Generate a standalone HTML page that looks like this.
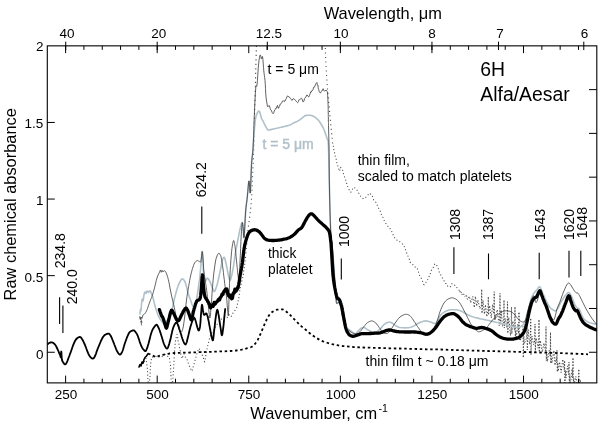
<!DOCTYPE html>
<html><head><meta charset="utf-8"><title>6H Alfa/Aesar absorbance</title>
<style>html,body{margin:0;padding:0;background:#fff}svg{display:block}text{font-family:"Liberation Sans",Arial,Helvetica,sans-serif;fill:#000}</style>
</head><body>
<svg width="600" height="424" viewBox="0 0 600 424">
<rect width="600" height="424" fill="#fff"/>
<clipPath id="c"><rect x="47.3" y="45.9" width="549.5" height="337.0"/></clipPath>
<g clip-path="url(#c)">
<polyline points="144.0,362.0 145.0,360.1 146.0,358.4 146.3,360.7 146.5,361.9 146.8,364.2 147.0,366.0 147.3,368.0 147.4,370.5 147.6,372.2 147.7,374.5 147.8,376.5 147.9,379.4 148.1,381.2 148.2,383.6 149.5,383.7 149.6,380.5 149.8,378.8 149.9,377.3 150.1,375.0 150.2,371.8 150.3,369.6 150.5,368.0 150.6,365.3 150.8,363.3 151.1,360.8 151.3,359.5 151.5,357.5 155.0,356.6 157.5,355.9 160.0,357.3 162.5,356.3 165.0,354.4 167.0,356.1 169.0,356.7 169.4,357.8 169.8,361.2 170.1,362.6 170.5,365.0 170.6,367.8 170.7,369.5 170.7,370.5 170.8,372.9 170.9,375.0 171.0,376.7 171.0,378.5 171.1,380.7 171.2,383.4 172.6,382.2 172.7,381.1 172.9,378.9 173.0,376.2 173.1,374.7 173.3,373.2 173.4,371.0 173.5,368.3 173.7,367.8 173.8,365.5 173.9,363.8 174.0,360.4 174.2,358.6 174.3,356.3 174.4,355.4 174.5,352.6 174.6,350.4 174.8,348.9 174.9,347.7 175.0,345.5 175.3,342.3 175.7,339.8 176.0,338.7 176.5,336.1 177.0,334.3 177.3,335.3 177.7,337.3 178.0,340.3 178.4,341.9 178.8,343.3 179.2,346.7 179.6,348.2 180.0,350.5 180.5,351.3 181.0,354.6 181.5,355.3 182.0,358.6 183.0,355.9 184.0,353.7 185.0,356.1 186.0,358.7 187.0,359.6 187.8,361.4 188.5,364.0 189.2,365.6 190.0,367.4 191.0,369.5 192.0,371.3 192.5,369.5 193.0,367.7 193.5,365.7 194.0,364.4 194.6,361.7 195.2,360.0 195.8,357.5 196.4,355.8 197.0,353.2 197.7,351.6 198.3,349.2 199.0,348.4 200.0,350.1 201.0,351.5 202.0,354.0 202.7,356.7 203.3,357.4 203.9,360.5 204.6,361.9 204.9,360.0 205.3,358.5 205.7,355.8 206.0,354.0 206.4,352.3 206.8,350.8 207.2,347.7 207.6,346.5 208.0,344.3 208.7,341.9 209.3,339.2 210.0,336.8 211.0,334.3 212.0,332.4 213.2,330.3 214.5,329.4 215.8,326.6 217.0,324.5 218.2,322.3 219.5,321.5 222.0,318.6 225.0,316.8 227.0,317.7 229.0,314.6 231.0,316.7 232.0,315.2 233.0,313.0 234.5,311.2 236.0,308.6 236.6,307.7 237.1,305.8 237.7,303.1 238.2,300.6 238.8,299.7 239.0,296.7 239.3,294.8 239.5,292.2 239.8,290.8 240.0,289.0 240.5,287.0 241.0,284.5 241.5,283.0 242.0,280.2 242.5,278.6 243.0,276.3 243.3,274.7 243.6,272.0 243.8,269.9 244.1,268.2 244.4,266.0 244.7,264.5 244.9,262.3 245.2,260.5 245.5,258.3" fill="none" stroke="#4a4a4a" stroke-width="1.05" stroke-linejoin="round" stroke-linecap="butt" stroke-dasharray="1.1 2.3"/>
<polyline points="245.5,258.0 248.3,226.8 249.5,218.6 250.9,206.8 251.8,195.0 252.6,175.4 253.6,151.8 254.5,115.0 255.5,80.0 256.3,50.0 256.8,30.0" fill="none" stroke="#4a4a4a" stroke-width="1.1" stroke-linejoin="round" stroke-linecap="butt" stroke-dasharray="1.1 3.4"/>
<polyline points="325.0,30.0 325.4,52.0 326.5,75.0 327.7,92.0 330.0,115.8 332.5,142.0" fill="none" stroke="#4a4a4a" stroke-width="1.1" stroke-linejoin="round" stroke-linecap="butt" stroke-dasharray="1.1 3.4"/>
<polyline points="332.5,142.4 332.9,144.8 333.3,145.8 333.6,147.7 334.0,151.0 334.4,151.3 334.8,154.4 335.4,156.7 336.0,157.9 336.6,161.9 337.2,164.4 338.0,166.2 338.7,168.8 339.5,171.3 340.5,167.3 342.4,169.5 343.0,171.5 343.6,174.1 344.2,176.0 345.0,178.4 345.8,180.3 346.6,183.3 347.2,184.9 347.8,187.0 348.4,188.1 349.0,189.8 350.8,192.3 352.0,190.4 353.2,187.5 354.9,187.9 357.0,190.1 358.2,192.3 359.5,194.3 360.7,196.2 361.8,197.7 363.0,198.6 364.8,198.4 366.6,196.5 368.3,194.5 370.0,193.1 371.2,195.5 372.5,196.5 373.7,200.1 374.8,200.9 375.9,202.3 377.0,204.5 378.2,207.8 379.5,209.1 380.7,212.5 381.6,215.2 382.5,216.4 383.4,218.4 384.3,220.8 385.5,222.9 386.6,224.8 387.8,226.2 389.0,228.1 390.2,228.8 391.4,230.8 392.6,233.4 393.8,236.7 395.0,238.2 396.7,240.1 398.3,240.4 400.0,241.9 401.9,243.4 403.8,245.3 404.5,247.3 405.2,249.2 405.9,250.3 406.6,252.6 407.3,254.4 408.2,256.7 409.1,258.2 409.9,262.0 410.8,262.8 414.4,266.0 415.6,267.7 416.8,267.6 418.0,270.3 418.9,273.3 419.8,275.8 420.6,277.0 421.5,278.8 422.4,280.7 423.4,284.2 424.3,284.7 425.5,283.5 426.7,280.6 427.9,279.3 428.8,278.0 429.6,274.1 430.5,273.3 431.4,270.4 432.4,269.3 433.5,267.1 434.6,264.3 435.6,263.8 436.5,265.2 437.4,266.5 438.3,268.8 439.2,272.0 440.1,273.7 440.9,275.3 441.8,276.8 442.7,279.0 444.0,280.7 445.4,283.5 446.7,283.6 448.0,286.9 450.5,286.7 451.9,283.7 453.4,283.9 454.6,285.1 455.7,287.1 456.9,287.6 459.5,290.7" fill="none" stroke="#4a4a4a" stroke-width="1.05" stroke-linejoin="round" stroke-linecap="butt" stroke-dasharray="1.1 2.3"/>
<polyline points="459.5,292.1 460.7,290.7 461.8,294.9 463.2,293.2 464.8,296.5 466.3,294.8 467.4,299.5 469.4,296.3 470.7,302.9 472.8,296.5 474.3,307.5 475.4,296.4 476.7,306.2 477.9,300.0 479.8,308.7 481.4,306.2 481.7,289.2 482.0,313.3 482.5,306.2 483.0,300.3 484.4,314.2 485.5,304.7 486.8,316.7 488.0,310.0 488.3,296.7 488.6,315.0 489.1,310.0 489.6,305.5 491.3,317.9 492.7,304.4 493.9,313.9 494.2,291.7 494.5,320.0 495.0,313.9 495.5,319.7 497.2,309.7 499.2,325.7 499.7,318.5 500.0,293.3 500.3,325.0 500.8,318.5 501.3,310.2 502.4,326.4 503.7,321.7 504.0,300.0 504.3,328.0 504.8,321.7 505.3,318.5 506.9,327.6 507.2,324.5 507.5,301.7 507.8,333.3 508.3,324.5 508.8,317.5 510.5,335.6 511.2,327.7 511.5,307.0 511.8,334.0 512.3,327.7 512.8,321.1 514.7,330.4 515.0,306.7 515.3,336.7 515.8,330.4 516.3,338.4 517.8,324.2 518.7,333.6 519.0,312.0 519.3,340.0 519.8,333.6 520.3,340.9 522.1,331.8 522.7,335.9 523.0,326.6 523.3,357.7 523.8,335.9 524.3,343.8 526.7,337.5 527.0,322.0 527.3,350.0 527.8,337.5 528.3,329.7 529.6,344.3 530.4,339.0 530.7,318.1 531.0,354.9 531.5,339.0 532.0,336.1 533.6,344.6 534.7,340.8 535.0,324.0 535.3,352.0 535.8,340.8 536.3,338.4 538.2,348.2 538.7,344.9 539.0,319.5 539.3,352.1 539.8,344.9 540.3,340.5 542.3,352.1 543.9,343.1 545.7,352.0 546.0,326.6 546.3,360.6 546.8,352.0 547.3,361.7 549.3,350.2 550.2,356.4 550.5,332.3 550.8,363.4 551.3,356.4 551.8,363.2 553.9,350.5 555.0,365.3 556.3,357.4 556.7,362.8 557.0,350.0 557.3,372.0 557.8,362.8 558.3,371.1 559.6,362.0 561.1,372.5 562.8,359.3 564.3,370.3 564.6,360.6 564.9,383.2 565.4,370.3 565.9,378.1 567.6,365.9 568.7,374.7 569.0,362.0 569.3,383.0 569.8,374.7 570.3,384.7 572.2,368.7 572.7,378.1 573.0,357.7 573.3,383.2 573.8,378.1 574.3,384.9 575.8,376.5 577.5,385.6 578.5,382.9 578.8,369.1 579.1,381.8 579.6,382.9 580.1,379.4 581.3,390.4 582.4,382.5 583.5,390.8 585.0,384.5" fill="none" stroke="#3c3c3c" stroke-width="0.95" stroke-linejoin="round" stroke-linecap="butt" stroke-dasharray="1.3 1.7"/>
<polyline points="140.0,314.0 140.1,312.9 140.2,311.4 140.4,309.9 140.5,309.0 140.6,309.2 140.7,310.2 140.9,311.0 141.0,311.0 141.1,309.6 141.3,307.4 141.4,305.0 141.6,303.0 141.8,301.6 141.9,300.4 142.1,299.5 142.3,299.0 142.5,299.3 142.6,300.1 142.8,300.9 143.0,301.0 143.2,300.0 143.5,298.3 143.8,296.5 144.0,295.0 144.2,293.9 144.4,293.0 144.7,292.4 144.9,292.0 145.2,292.2 145.4,292.7 145.7,293.3 146.0,293.5 146.2,293.1 146.5,292.2 146.7,291.4 147.0,291.0 147.4,291.2 147.8,291.7 148.1,292.2 148.5,292.5 148.8,292.3 149.0,291.8 149.3,291.3 149.5,291.0 149.7,290.8 150.0,290.8 150.2,290.9 150.6,291.5 151.1,292.6 151.7,294.2 152.4,296.0 153.0,298.0 153.6,300.3 154.2,302.8 154.9,305.5 155.6,308.0 156.4,310.4 157.2,312.8 158.0,315.0 158.9,317.0 159.9,318.8 161.1,320.4 162.1,321.8 163.0,322.8 163.5,323.5 163.8,324.0 164.2,324.1 164.7,323.7 165.6,322.8 166.7,321.4 167.8,319.7 168.8,317.9 169.7,316.1 170.5,314.1 171.3,312.0 172.0,309.6 172.7,306.9 173.3,304.0 173.9,301.0 174.6,298.0 175.4,295.0 176.2,291.9 177.1,289.0 177.9,286.5 178.7,284.4 179.5,282.6 180.3,281.1 181.0,280.0 181.5,279.3 182.0,279.0 182.4,278.9 182.8,279.0 183.2,279.2 183.7,279.7 184.1,280.3 184.5,281.0 184.9,281.7 185.2,282.5 185.6,283.5 186.0,285.0 186.6,287.1 187.3,289.8 188.0,292.5 188.6,294.8 189.2,296.6 189.8,298.1 190.3,299.5 190.8,300.8 191.3,302.1 191.7,303.4 192.1,304.6 192.5,305.5 192.9,306.2 193.2,306.7 193.5,307.0 193.9,307.0 194.3,306.7 194.7,306.1 195.1,305.2 195.5,304.0 195.9,302.5 196.3,300.8 196.7,298.5 197.2,295.6 197.8,291.7 198.5,286.9 199.2,282.0 199.8,277.4 200.2,273.2 200.6,269.2 200.9,265.4 201.2,262.0 201.5,258.5 201.7,255.1 202.0,252.5 202.2,251.5 202.4,252.6 202.6,255.3 202.8,258.7 203.0,262.0 203.2,265.1 203.3,268.6 203.5,271.8 203.8,274.6 204.2,276.9 204.6,278.8 205.1,280.2 205.6,281.0 206.0,280.8 206.4,279.7 206.9,278.5 207.4,278.0 208.0,278.4 208.6,279.2 209.3,280.3 210.0,281.6 210.7,283.2 211.4,285.2 212.1,287.2 212.7,288.7 213.2,289.9 213.6,290.9 214.0,291.5 214.5,291.4 215.1,290.6 215.7,289.1 216.3,287.2 217.0,285.0 217.7,282.4 218.4,279.3 219.1,276.0 219.8,272.8 220.5,269.5 221.2,266.0 221.8,262.8 222.4,260.4 222.9,258.7 223.4,257.7 223.9,257.2 224.4,257.5 224.9,258.7 225.4,260.8 226.0,263.2 226.5,265.7 227.0,268.3 227.6,271.3 228.1,274.1 228.6,276.3 229.1,278.0 229.5,279.4 229.9,280.2 230.4,279.9 231.0,278.3 231.6,275.8 232.3,272.5 233.0,269.0 233.7,265.0 234.3,260.4 235.0,255.8 235.7,251.5 236.4,247.6 237.1,243.9 237.8,240.5 238.4,237.4 238.9,234.6 239.4,232.2 239.8,230.0 240.3,228.0 240.8,226.1 241.3,224.3 241.8,222.9 242.2,222.5 242.5,223.2 242.8,224.9 243.0,227.0 243.2,229.0 243.4,231.8 243.6,235.2 243.8,237.7 244.1,237.5 244.4,233.3 244.8,226.3 245.2,218.5 245.6,212.0 246.0,207.3 246.5,203.3 247.0,199.7 247.4,196.0 247.8,191.5 248.2,186.8 248.6,182.8 249.0,181.0 249.3,183.0 249.7,187.8 250.0,192.2 250.3,193.0 250.6,188.4 250.9,180.3 251.2,171.5 251.5,164.6 251.8,160.5 252.1,157.6 252.4,155.3 252.7,152.8 252.9,150.2 253.0,147.9 253.2,145.3 253.4,142.0 253.7,137.5 254.2,132.2 254.6,126.9 255.0,122.8 255.3,120.1 255.6,118.4 255.8,117.1 256.2,115.8 256.7,114.3 257.4,112.8 258.0,111.7 258.6,111.0 259.0,111.0 259.4,111.4 259.7,112.1 260.0,113.0 260.3,114.1 260.7,115.4 261.0,116.8 261.4,118.0 261.8,119.0 262.3,119.9 262.8,120.7 263.3,121.7 263.9,122.8 264.5,124.1 265.1,125.3 265.7,126.4 266.3,127.5 266.8,128.5 267.3,129.3 268.0,129.9 268.7,130.1 269.4,130.0 270.3,129.7 271.6,129.4 273.4,129.0 275.6,128.5 277.9,128.0 279.8,127.5 281.2,127.2 282.4,126.9 283.4,126.7 284.5,126.4 285.7,126.1 286.8,125.9 288.0,125.6 289.2,125.2 290.4,124.7 291.6,124.1 292.8,123.4 294.0,122.8 295.2,122.2 296.4,121.7 297.6,121.1 298.7,120.5 299.7,119.9 300.6,119.2 301.4,118.6 302.2,118.0 302.9,117.4 303.6,116.8 304.2,116.2 305.0,115.8 305.9,115.5 306.9,115.4 307.9,115.3 308.9,115.3 309.8,115.3 310.7,115.4 311.5,115.5 312.4,115.8 313.3,116.2 314.2,116.7 315.1,117.3 316.0,118.0 316.9,118.8 317.8,119.6 318.6,120.6 319.5,121.7 320.4,123.0 321.3,124.5 322.2,126.0 323.0,127.5 323.7,129.0 324.3,130.4 324.9,131.9 325.4,133.4 325.9,134.9 326.4,136.4 326.9,137.8 327.3,139.3 327.6,139.8 327.9,139.7 328.1,140.8 328.4,145.0 328.7,153.6 328.9,165.4 329.2,178.2 329.5,190.0 329.8,200.8 330.0,211.5 330.3,221.4 330.6,229.6 331.0,235.3 331.4,239.2 331.8,242.6 332.3,247.0 332.8,252.9 333.3,259.5 333.8,266.1 334.2,272.0 334.6,277.2 334.9,281.9 335.2,286.2 335.5,290.0 335.7,293.2 335.9,295.9 336.0,298.2 336.2,300.0 336.3,301.4 336.4,302.4 336.6,303.0 336.8,303.4 337.1,303.4 337.6,302.9 338.0,302.5 338.5,302.5 339.0,302.9 339.5,303.6 340.0,304.6 340.5,306.0 341.0,308.1 341.5,310.7 342.0,313.4 342.5,316.0 343.0,318.4 343.5,320.8 344.0,323.1 344.5,325.0 345.1,326.7 345.8,328.1 346.5,329.3 347.0,330.0 347.2,330.0 347.1,329.5 347.2,328.9 347.5,328.7 348.3,329.2 349.4,330.0 350.6,330.9 351.7,331.7 352.8,332.4 353.9,333.1 354.9,333.6 355.8,333.7 356.5,333.3 357.1,332.6 357.6,331.6 358.3,330.8 359.1,330.0 360.0,329.2 360.9,328.5 361.7,328.0 362.4,327.7 363.0,327.5 363.6,327.4 364.2,327.5 364.8,327.8 365.4,328.2 366.0,328.7 366.7,329.2 367.6,329.7 368.6,330.3 369.7,330.9 370.8,331.3 372.0,331.7 373.3,332.0 374.6,332.1 375.8,332.0 376.9,331.6 378.0,330.9 379.0,330.1 380.0,329.2 380.9,328.3 381.7,327.2 382.5,326.2 383.3,325.3 384.1,324.5 385.0,323.8 385.9,323.3 386.7,322.8 387.5,322.5 388.4,322.2 389.2,322.2 390.0,322.2 390.8,322.4 391.6,322.8 392.5,323.3 393.3,323.8 394.1,324.4 394.9,325.1 395.7,325.7 396.7,326.3 397.8,326.8 399.0,327.2 400.3,327.5 401.7,327.7 403.3,327.8 405.0,327.9 406.7,327.8 408.3,327.7 409.7,327.5 410.9,327.2 412.1,326.8 413.3,326.3 414.6,325.6 415.8,324.8 417.1,324.0 418.3,323.3 419.6,322.7 420.9,322.1 422.2,321.7 423.3,321.3 424.2,321.1 425.1,321.0 425.8,320.9 426.7,321.0 427.7,321.1 428.7,321.4 429.8,321.7 430.8,322.0 431.9,322.4 433.0,323.0 434.1,323.4 435.0,323.5 435.7,323.2 436.3,322.6 436.9,321.8 437.5,320.8 438.2,319.5 439.0,317.9 439.9,316.3 440.8,315.0 441.8,314.0 442.8,313.1 443.9,312.4 445.0,311.7 446.1,311.1 447.1,310.7 448.2,310.3 449.2,310.0 450.2,309.8 451.2,309.7 452.3,309.7 453.3,309.7 454.3,309.7 455.4,309.7 456.4,309.8 457.5,310.0 458.6,310.2 459.6,310.5 460.7,310.9 461.7,311.3 462.7,311.8 463.7,312.5 464.8,313.1 465.8,313.7 466.8,314.3 467.8,314.8 468.9,315.3 470.0,315.8 471.2,316.3 472.4,316.7 473.7,317.1 475.0,317.5 476.2,317.8 477.5,318.1 478.8,318.4 480.0,318.7 481.2,319.0 482.5,319.2 483.8,319.4 485.0,319.7 486.2,320.0 487.5,320.2 488.8,320.5 490.0,320.8 491.2,321.1 492.5,321.4 493.8,321.7 495.0,322.0 496.2,322.3 497.5,322.5 498.8,322.7 500.0,323.0 501.2,323.3 502.5,323.6 503.8,323.9 505.0,324.2 506.2,324.6 507.4,325.0 508.6,325.4 510.0,325.8 511.6,326.3 513.4,326.8 515.2,327.3 516.7,327.5 518.0,327.5 519.0,327.4 520.0,327.1 521.0,326.5 522.0,325.7 523.1,324.8 524.1,323.5 525.0,321.7 525.9,319.2 526.7,316.2 527.5,313.0 528.3,310.0 529.0,307.3 529.6,304.6 530.2,302.2 530.8,300.0 531.4,298.2 532.0,296.7 532.6,295.4 533.3,294.2 534.1,293.0 535.0,291.9 535.9,290.9 536.7,290.0 537.5,288.9 538.2,287.7 539.0,286.9 539.7,286.7 540.4,287.5 541.1,289.0 541.8,290.8 542.5,292.5 543.1,294.0 543.8,295.4 544.4,296.9 545.0,298.3 545.6,299.6 546.2,300.9 546.9,302.1 547.5,303.3 548.1,304.4 548.7,305.6 549.3,306.6 550.0,307.5 550.8,308.3 551.6,309.0 552.5,309.5 553.3,310.0 554.0,310.4 554.6,310.8 555.2,310.9 555.8,310.8 556.4,310.3 557.0,309.5 557.7,308.5 558.3,307.5 558.9,306.4 559.5,305.1 560.2,303.7 560.8,302.5 561.4,301.4 562.0,300.3 562.7,299.3 563.3,298.3 563.9,297.4 564.5,296.5 565.1,295.7 565.8,295.0 566.5,294.2 567.2,293.3 568.0,292.6 568.7,292.5 569.5,293.0 570.2,294.0 571.0,295.3 571.7,296.7 572.4,298.2 573.0,300.0 573.6,301.8 574.2,303.3 574.8,304.6 575.5,305.7 576.1,306.7 576.7,307.5 577.3,308.0 578.0,308.3 578.6,308.5 579.2,309.2 579.8,310.4 580.5,311.9 581.1,313.6 581.7,315.0 582.3,316.2 582.9,317.3 583.5,318.3 584.2,319.2 584.9,320.0 585.7,320.6 586.6,321.2 587.5,321.7 588.5,322.2 589.6,322.6 590.6,323.0 591.7,323.3 592.8,323.6 593.9,323.8 594.9,324.0 595.8,324.2 596.4,324.3 596.9,324.4 597.3,324.5 597.5,324.5" fill="none" stroke="#b0c1ca" stroke-width="1.6" stroke-linejoin="round" stroke-linecap="round" />
<polyline points="141.6,325.0 141.4,324.2 141.2,322.9 141.0,321.7 140.9,321.0 141.1,321.1 141.4,321.8 141.8,322.4 141.9,322.5 141.7,321.8 141.4,320.7 141.0,319.5 140.7,318.5 140.4,317.7 140.1,317.1 139.9,316.6 139.8,316.5 139.8,317.0 139.9,318.0 140.1,319.0 140.3,319.5 140.5,319.2 140.7,318.3 141.0,317.5 141.2,317.0 141.4,317.2 141.6,317.8 141.8,318.4 142.0,318.5 142.2,317.9 142.5,316.9 142.7,315.8 143.0,315.0 143.3,314.6 143.7,314.5 144.1,314.3 144.5,314.0 145.0,313.4 145.5,312.7 146.0,311.9 146.5,311.0 146.9,310.1 147.2,309.3 147.6,308.3 148.0,307.0 148.6,305.3 149.3,303.3 150.0,301.3 150.6,299.7 151.0,298.7 151.3,298.1 151.6,297.4 152.0,296.5 152.4,295.2 152.9,293.7 153.4,291.9 154.0,289.8 154.7,287.1 155.5,283.9 156.2,280.7 157.0,278.0 157.7,275.9 158.5,274.2 159.2,272.8 159.7,271.7 160.0,270.9 160.2,270.3 160.4,270.0 160.5,270.0 160.7,270.4 160.8,271.2 161.0,271.9 161.2,272.3 161.4,272.0 161.6,271.3 161.8,270.6 162.0,270.3 162.2,270.5 162.5,271.1 162.7,271.7 163.0,272.0 163.2,271.8 163.5,271.3 163.7,270.9 164.0,270.6 164.3,270.6 164.7,270.8 165.1,271.1 165.5,271.6 165.9,272.2 166.2,273.0 166.6,273.9 167.0,275.0 167.4,276.3 167.9,277.8 168.3,279.5 168.8,281.6 169.3,284.1 169.8,287.0 170.4,290.0 171.0,293.0 171.6,295.9 172.3,298.9 173.0,301.8 173.7,304.7 174.3,307.6 174.9,310.5 175.5,313.3 176.0,316.0 176.5,318.7 177.0,321.4 177.5,323.8 178.0,326.0 178.5,327.8 179.0,329.3 179.5,330.6 180.0,331.5 180.4,332.1 180.8,332.3 181.1,332.3 181.5,332.0 181.9,331.5 182.2,330.7 182.6,329.5 183.0,328.0 183.4,326.1 183.7,323.9 184.1,321.2 184.5,318.0 185.0,314.0 185.5,309.2 186.0,304.4 186.5,300.0 187.0,296.3 187.5,292.8 188.1,289.6 188.6,286.5 189.2,283.3 189.7,280.3 190.3,277.4 190.8,274.9 191.3,272.9 191.7,271.3 192.1,269.9 192.5,268.5 193.0,267.0 193.5,265.5 194.0,264.1 194.6,263.0 195.2,262.1 195.9,261.4 196.6,260.9 197.2,260.6 197.7,260.6 198.2,260.8 198.6,261.1 199.0,261.3 199.4,261.6 199.9,261.9 200.3,262.2 200.6,262.0 200.9,261.4 201.0,260.4 201.2,259.3 201.4,258.0 201.6,256.2 201.8,254.1 202.0,252.3 202.2,251.5 202.4,252.1 202.6,253.6 202.8,255.7 203.0,258.0 203.2,260.6 203.3,263.7 203.5,266.8 203.7,269.7 204.0,272.2 204.3,274.5 204.7,276.8 205.0,279.0 205.3,281.2 205.6,283.2 206.0,285.4 206.3,287.8 206.7,290.6 207.1,293.7 207.4,296.9 207.8,300.0 208.1,303.2 208.4,306.4 208.7,309.4 209.0,312.0 209.3,314.4 209.5,316.6 209.7,318.0 210.0,318.0 210.3,316.1 210.6,312.8 210.9,308.8 211.2,305.0 211.5,301.3 211.8,297.5 212.0,293.7 212.3,290.0 212.6,286.7 212.8,283.5 213.1,280.3 213.4,277.0 213.8,273.2 214.4,269.1 214.9,265.2 215.4,262.0 215.8,259.8 216.2,258.2 216.6,257.1 217.0,256.0 217.4,255.0 217.9,254.2 218.3,253.6 218.7,253.3 219.1,253.3 219.4,253.5 219.7,254.0 220.0,254.5 220.3,254.9 220.6,255.4 220.9,256.1 221.2,257.5 221.6,259.7 222.1,262.5 222.5,265.7 223.0,269.0 223.4,272.4 223.8,276.1 224.3,279.8 224.7,283.4 225.2,286.8 225.6,290.2 226.1,293.5 226.5,297.0 226.9,300.9 227.2,305.1 227.5,309.0 227.8,311.9 228.0,313.9 228.1,315.3 228.3,315.8 228.4,315.0 228.5,312.7 228.7,309.1 228.8,304.7 229.0,300.0 229.2,295.0 229.3,289.5 229.5,283.7 229.8,278.0 230.1,272.0 230.5,265.8 230.9,259.9 231.3,255.0 231.6,251.5 231.9,248.8 232.2,246.8 232.5,245.0 232.8,243.3 233.1,241.9 233.3,241.0 233.6,240.5 233.8,240.7 234.1,241.3 234.3,242.4 234.5,243.5 234.7,244.6 234.9,245.8 235.1,247.3 235.4,249.5 235.7,252.7 236.1,256.7 236.5,260.9 236.9,264.5 237.2,267.6 237.5,270.4 237.7,272.9 238.0,275.0 238.2,277.1 238.5,279.2 238.7,280.3 238.9,279.8 239.2,277.1 239.4,272.8 239.7,267.6 240.0,262.0 240.3,255.8 240.6,248.7 240.9,241.8 241.2,236.0 241.5,231.3 241.7,227.2 242.0,224.2 242.2,222.5 242.5,222.7 242.7,224.4 243.0,226.8 243.2,229.0 243.4,231.8 243.6,235.2 243.8,237.7 244.1,237.5 244.4,233.3 244.8,226.3 245.2,218.5 245.6,212.0 246.0,207.3 246.5,203.3 247.0,199.7 247.4,196.0 247.8,191.5 248.2,186.8 248.6,182.8 249.0,181.0 249.3,183.0 249.7,187.8 250.0,192.2 250.3,193.0 250.6,188.4 250.9,180.3 251.2,171.5 251.5,164.6 251.8,160.5 252.1,157.6 252.4,155.3 252.7,152.8 252.9,150.4 253.1,148.3 253.2,145.8 253.4,142.0 253.6,136.6 253.8,130.0 254.0,122.9 254.3,115.8 254.6,108.3 255.0,100.2 255.4,92.8 255.8,87.5 256.1,85.5 256.4,85.8 256.7,86.3 257.0,85.0 257.4,80.7 257.8,74.9 258.2,68.8 258.6,63.9 259.0,60.5 259.4,57.8 259.8,55.9 260.2,54.9 260.5,55.2 260.8,56.5 261.1,58.1 261.4,59.0 261.7,58.5 262.0,57.3 262.3,56.4 262.6,56.8 262.9,59.3 263.2,63.1 263.5,67.3 263.8,70.9 264.1,73.4 264.4,75.5 264.7,77.6 265.0,80.4 265.3,84.2 265.5,88.7 265.7,93.1 266.0,96.9 266.4,100.0 266.8,102.6 267.2,104.8 267.5,106.3 267.5,106.5 269.4,105.7 269.8,107.1 270.2,108.5 270.6,109.8 271.3,110.2 272.1,112.4 272.8,113.5 273.5,113.4 273.9,112.5 274.3,110.9 274.8,110.0 275.2,109.5 275.6,108.4 276.2,108.6 276.9,106.5 277.5,105.4 278.1,108.0 278.8,108.2 279.2,106.4 279.7,106.0 280.2,104.0 280.6,103.9 281.2,103.6 281.9,102.3 282.5,101.0 283.4,100.8 284.4,101.7 284.9,100.4 285.4,100.5 285.8,99.1 286.3,98.6 286.9,97.0 287.5,95.9 288.1,96.2 289.1,97.1 290.0,97.5 290.6,98.5 291.3,99.5 291.9,100.4 292.9,98.9 293.8,98.8 294.4,99.4 295.0,99.6 295.6,100.5 296.6,101.8 297.5,102.7 298.0,102.4 298.4,101.8 298.9,99.8 299.4,99.6 300.4,99.0 301.3,98.3 301.7,98.3 302.0,99.0 302.4,100.0 302.7,101.0 303.1,102.0 303.5,101.7 303.9,101.2 304.2,100.1 304.6,98.5 305.0,97.8 305.9,97.1 306.9,94.9 307.9,96.2 308.8,97.0 309.2,95.9 309.7,94.9 310.2,93.4 310.6,91.9 311.2,92.2 311.9,90.5 312.5,90.5 313.0,89.9 313.4,88.0 313.9,87.0 314.4,87.1 315.0,85.9 315.6,84.1 316.3,83.2 316.9,82.5 317.4,84.8 317.8,85.6 318.0,85.4 318.2,87.6 318.4,88.9 318.6,89.3 318.8,89.8 319.0,91.2 319.2,91.4 319.4,92.2 320.4,93.0 321.3,91.6 321.9,90.5 322.5,90.4 323.1,88.7 323.7,90.3 324.4,91.1 325.0,90.8 326.3,90.2 326.9,91.2 327.5,92.0 327.6,93.7 327.6,94.2 327.6,95.5 327.7,96.0 327.8,98.4 327.8,98.5 327.9,99.7 327.9,101.0 328.0,102.6 328.0,102.8 328.1,104.7 328.1,105.0 328.1,106.1 328.1,107.0 328.2,107.1 328.2,108.9 328.2,109.4 328.2,110.1 328.2,112.5 328.3,112.4 328.3,114.0 328.3,115.4 328.3,116.1 328.3,116.7 328.4,118.0 328.4,119.1 328.4,120.5 328.4,120.3 328.4,122.1 328.5,122.5 328.5,123.6 328.5,125.5 329.0,145.0 329.1,153.2 329.2,165.0 329.3,178.1 329.5,190.0 329.7,200.8 330.0,211.5 330.3,221.4 330.6,229.6 331.0,235.3 331.4,239.2 331.8,242.6 332.3,247.0 332.8,252.9 333.3,259.5 333.8,266.1 334.2,272.0 334.6,277.2 334.9,281.9 335.2,286.2 335.5,290.0 335.7,293.2 335.9,295.9 336.0,298.2 336.2,300.0 336.3,301.4 336.4,302.4 336.6,303.0 336.8,303.4 337.1,303.4 337.6,302.9 338.0,302.5 338.5,302.5 339.0,302.9 339.5,303.6 340.0,304.6 340.5,306.0 341.0,308.1 341.5,310.7 342.0,313.4 342.5,316.0 343.0,318.4 343.5,320.8 344.0,323.1 344.5,325.0 345.1,326.6 345.8,328.1 346.4,329.2 347.0,330.0 347.3,330.3 347.5,330.1 347.8,329.9 348.3,330.0 349.1,330.6 350.2,331.5 351.4,332.3 352.5,333.0 353.6,333.4 354.7,333.7 355.7,333.8 356.7,333.7 357.6,333.4 358.4,333.0 359.2,332.4 360.0,331.7 360.8,330.8 361.6,329.7 362.5,328.6 363.3,327.5 364.1,326.4 365.0,325.3 365.9,324.2 366.7,323.3 367.6,322.6 368.4,322.1 369.2,321.6 370.0,321.3 370.7,321.1 371.2,320.9 371.8,320.9 372.5,321.0 373.3,321.3 374.1,321.7 374.9,322.3 375.8,323.0 376.7,324.0 377.6,325.2 378.4,326.4 379.2,327.5 379.9,328.4 380.5,329.3 381.1,330.1 381.7,330.8 382.3,331.5 382.8,332.1 383.4,332.6 384.0,333.0 384.7,333.3 385.5,333.5 386.2,333.6 387.0,333.5 387.7,333.1 388.5,332.6 389.2,331.9 390.0,331.0 390.8,329.9 391.6,328.6 392.5,327.1 393.3,325.8 394.1,324.5 395.0,323.2 395.9,322.0 396.7,320.8 397.5,319.7 398.3,318.7 399.1,317.8 400.0,317.0 401.0,316.3 402.1,315.6 403.2,315.1 404.2,314.7 404.9,314.4 405.5,314.3 406.1,314.2 406.7,314.3 407.5,314.5 408.3,314.8 409.2,315.2 410.0,315.8 410.8,316.6 411.6,317.7 412.5,318.8 413.3,320.0 414.1,321.3 415.0,322.6 415.9,324.0 416.7,325.3 417.5,326.5 418.4,327.8 419.2,328.9 420.0,330.0 420.7,331.0 421.5,331.9 422.2,332.8 423.0,333.5 423.9,334.2 424.9,334.9 426.0,335.4 427.0,335.5 428.0,335.2 429.1,334.7 430.1,333.9 431.0,333.0 431.8,332.0 432.5,330.8 433.2,329.5 434.0,328.0 434.9,326.2 435.8,324.2 436.7,322.1 437.5,320.0 438.2,317.9 438.8,315.8 439.3,313.7 440.0,311.7 440.8,309.7 441.6,307.7 442.4,305.8 443.3,304.2 444.1,302.9 445.0,301.8 445.8,300.8 446.7,300.0 447.7,299.3 448.8,298.7 449.9,298.3 450.8,298.0 451.5,297.8 452.1,297.8 452.6,297.8 453.3,298.0 454.1,298.3 454.9,298.6 455.8,299.1 456.7,299.7 457.5,300.4 458.4,301.2 459.2,302.2 460.0,303.3 460.8,304.6 461.6,306.1 462.5,307.6 463.3,309.2 464.1,310.8 465.0,312.4 465.9,314.1 466.7,315.8 467.5,317.5 468.4,319.2 469.2,320.9 470.0,322.5 470.8,323.9 471.6,325.2 472.4,326.4 473.3,327.5 474.3,328.6 475.5,329.7 476.5,330.6 477.5,331.3 478.2,331.7 478.8,331.8 479.4,331.8 480.0,331.7 480.8,331.4 481.6,331.0 482.4,330.5 483.3,330.0 484.1,329.5 485.0,328.9 485.9,328.3 486.7,327.5 487.5,326.6 488.4,325.5 489.2,324.4 490.0,323.3 490.8,322.3 491.6,321.2 492.5,320.2 493.3,319.2 494.1,318.3 495.0,317.4 495.9,316.6 496.7,315.8 497.5,315.0 498.4,314.3 499.2,313.6 500.0,313.0 500.8,312.5 501.6,312.0 502.5,311.6 503.3,311.3 504.1,311.1 505.0,310.9 505.8,310.8 506.7,310.8 507.7,310.9 508.8,311.1 509.8,311.3 510.8,311.7 511.7,312.2 512.6,312.7 513.4,313.4 514.2,314.2 515.1,315.1 515.9,316.3 516.7,317.3 517.5,318.3 518.2,319.1 518.8,319.7 519.3,320.3 520.0,320.8 520.8,321.3 521.7,321.7 522.5,322.0 523.3,322.0 523.9,321.9 524.5,321.6 525.0,321.0 525.5,320.0 526.0,318.4 526.5,316.4 527.0,314.2 527.5,312.0 528.1,309.7 528.7,307.3 529.4,305.0 530.0,303.0 530.6,301.3 531.3,299.8 531.9,298.5 532.5,297.5 532.9,296.7 533.3,296.0 533.6,295.7 534.0,296.0 534.4,297.3 534.9,299.3 535.3,301.3 535.8,302.5 536.2,302.6 536.6,302.2 537.0,301.2 537.5,300.0 538.0,298.1 538.6,295.6 539.2,293.3 539.7,292.0 540.2,292.1 540.6,293.1 541.0,294.6 541.5,296.0 542.1,297.3 542.7,298.8 543.3,300.4 544.0,302.0 544.7,303.6 545.5,305.2 546.2,306.9 547.0,308.5 547.7,310.2 548.5,311.8 549.2,313.5 550.0,315.0 550.8,316.5 551.7,318.1 552.6,319.3 553.3,320.0 553.8,319.9 554.2,319.2 554.6,318.2 555.0,317.0 555.4,315.6 555.8,313.8 556.2,311.9 556.7,310.0 557.4,308.0 558.2,306.0 559.1,303.9 560.0,301.7 560.8,299.4 561.6,297.0 562.5,294.7 563.3,292.5 564.2,290.4 565.1,288.3 565.9,286.4 566.7,285.0 567.3,284.0 567.8,283.4 568.2,283.1 568.7,283.0 569.2,283.2 569.7,283.6 570.2,284.3 570.8,285.0 571.4,285.9 572.0,287.0 572.7,288.2 573.3,289.2 573.9,290.1 574.6,291.1 575.2,291.9 575.8,292.5 576.4,292.8 576.9,292.9 577.5,293.0 578.0,293.3 578.5,293.9 578.9,294.6 579.4,295.6 580.0,296.7 580.7,298.1 581.6,299.8 582.4,301.6 583.3,303.3 584.1,305.0 584.9,306.6 585.8,308.3 586.7,310.0 587.7,311.7 588.7,313.4 589.8,315.1 590.8,316.7 591.9,318.3 593.0,319.9 594.1,321.3 595.0,322.5 595.8,323.4 596.5,324.1 597.1,324.6 597.5,325.0" fill="none" stroke="#3a3a3a" stroke-width="0.8" stroke-linejoin="round" stroke-linecap="round" />
<polyline points="139.0,367.0 140.0,364.5 141.0,366.0 142.0,362.0 143.0,363.2 144.0,359.5 145.0,357.5 146.5,356.0 148.0,353.6" fill="none" stroke="#000" stroke-width="1.6" stroke-linejoin="round" stroke-linecap="round" />
<polyline points="148.0,353.6 148.5,353.8 149.3,354.0 150.2,354.3 151.1,354.7 152.0,355.0 152.8,355.4 153.6,355.9 154.4,356.4 155.2,356.8 156.0,357.0 156.8,356.9 157.5,356.7 158.2,356.3 159.0,355.9 160.0,355.6 161.2,355.3 162.5,354.9 164.0,354.6 165.5,354.3 167.0,354.0 168.3,353.8 169.6,353.5 170.9,353.3 172.6,353.2 175.0,353.0 178.2,352.9 182.1,352.7 186.4,352.6 190.8,352.5 195.0,352.4 199.1,352.2 203.2,352.1 207.4,351.9 211.3,351.8 215.0,351.6 218.4,351.5 221.6,351.4 224.6,351.3 227.4,351.1 230.0,351.0 232.4,350.8 234.5,350.7 236.4,350.5 238.2,350.3 240.0,350.0 241.8,349.7 243.5,349.3 245.1,348.8 246.6,348.4 248.0,348.0 249.2,347.6 250.3,347.3 251.2,347.0 252.1,346.6 253.0,346.0 253.9,345.2 254.7,344.3 255.5,343.2 256.3,342.1 257.0,341.0 257.7,339.9 258.3,338.7 258.8,337.5 259.4,336.3 260.0,335.0 260.6,333.7 261.2,332.3 261.8,330.8 262.4,329.4 263.0,328.0 263.6,326.6 264.2,325.2 264.7,323.8 265.3,322.4 266.0,321.0 266.7,319.5 267.5,318.0 268.3,316.6 269.1,315.2 270.0,314.0 270.9,313.0 271.9,312.2 273.0,311.5 274.0,310.9 275.0,310.4 276.0,310.0 277.0,309.7 278.1,309.6 279.1,309.5 280.0,309.4 280.8,309.4 281.6,309.4 282.4,309.4 283.2,309.6 284.0,310.0 284.9,310.6 285.9,311.3 287.0,312.2 288.0,313.1 289.0,314.0 290.0,314.9 291.0,315.9 291.9,316.9 292.9,317.9 294.0,319.0 295.1,320.2 296.3,321.4 297.6,322.6 298.8,323.8 300.0,325.0 301.2,326.1 302.4,327.1 303.6,328.0 304.8,329.0 306.0,330.0 307.2,331.0 308.3,332.0 309.5,333.0 310.7,334.0 312.0,335.0 313.5,336.0 315.1,337.1 316.7,338.1 318.4,339.1 320.0,340.0 321.5,340.7 323.0,341.4 324.5,341.9 326.1,342.5 328.0,343.0 330.1,343.6 332.3,344.2 334.7,344.7 337.2,345.2 340.0,345.7 343.0,346.1 346.3,346.4 349.8,346.7 353.3,347.0 356.7,347.2 360.0,347.4 363.3,347.5 366.7,347.6 370.0,347.7 373.3,347.8 376.6,347.9 380.0,348.0 383.3,348.1 386.7,348.2 390.0,348.3 393.3,348.4 396.7,348.5 400.0,348.5 403.4,348.6 406.7,348.7 410.0,348.8 413.3,348.9 416.7,349.0 420.0,349.1 423.3,349.2 426.4,349.3 429.3,349.3 432.4,349.3 435.8,349.4 440.0,349.5 445.1,349.7 451.0,349.9 457.4,350.1 463.8,350.3 470.0,350.5 475.8,350.7 481.5,350.8 487.3,351.0 493.4,351.1 500.0,351.3 507.5,351.5 515.8,351.8 524.2,352.0 532.5,352.3 540.0,352.5 546.8,352.7 553.3,352.9 559.3,353.1 564.9,353.3 570.0,353.5 574.7,353.7 578.9,353.9 582.7,354.0 585.7,354.2 588.0,354.3" fill="none" stroke="#000" stroke-width="1.8" stroke-linejoin="round" stroke-linecap="butt" stroke-dasharray="2.5 2.7"/>
<polyline points="47.5,344.4 47.8,344.2 48.1,343.8 48.6,343.4 49.0,343.1 49.5,342.8 50.0,342.6 50.5,342.5 51.0,342.4 51.5,342.3 52.0,342.4 52.5,342.6 53.0,342.8 53.5,343.1 54.0,343.5 54.5,344.0 55.0,344.6 55.5,345.3 56.0,346.1 56.5,347.0 57.0,348.0 57.6,349.3 58.3,350.8 58.9,352.4 59.5,353.9 60.0,355.0 60.3,355.8 60.5,356.5 60.6,357.0 60.7,357.2 60.8,357.0 60.9,356.2 61.0,354.7 61.1,353.1 61.2,351.9 61.3,351.5 61.4,352.3 61.5,354.0 61.6,356.0 61.7,358.0 61.9,359.5 62.1,360.4 62.3,360.9 62.5,361.3 62.7,361.6 63.0,362.0 63.3,362.6 63.7,363.2 64.2,363.8 64.6,364.2 65.0,364.4 65.4,364.3 65.8,364.1 66.1,363.6 66.5,362.9 67.0,362.0 67.5,360.8 68.0,359.4 68.6,357.8 69.3,356.0 70.0,354.0 70.9,351.6 71.9,348.7 72.9,345.8 74.0,343.1 75.0,341.0 75.9,339.5 76.9,338.5 77.8,337.7 78.6,337.3 79.4,337.0 80.0,337.0 80.6,337.2 81.0,337.6 81.5,338.2 82.0,339.0 82.6,339.9 83.1,340.9 83.7,342.1 84.3,343.5 85.0,345.0 85.7,346.8 86.5,349.0 87.4,351.3 88.2,353.3 89.0,355.0 89.8,356.2 90.5,357.2 91.3,357.9 92.0,358.4 92.6,358.6 93.1,358.6 93.6,358.3 94.1,357.7 94.5,357.0 95.0,356.0 95.5,354.8 96.1,353.3 96.6,351.7 97.3,349.9 98.0,348.0 98.9,345.9 99.9,343.5 100.9,341.0 102.0,338.8 103.0,337.0 104.0,335.7 105.1,334.8 106.2,334.2 107.2,333.8 108.0,333.6 108.7,333.6 109.2,333.8 109.6,334.2 110.0,334.8 110.5,335.5 111.0,336.3 111.4,337.2 111.9,338.3 112.4,339.6 113.0,341.0 113.7,342.8 114.5,345.0 115.4,347.2 116.2,349.3 117.0,351.0 117.7,352.2 118.3,353.2 118.9,354.0 119.4,354.4 120.0,354.6 120.5,354.4 121.0,353.9 121.5,353.1 122.0,352.1 122.5,351.0 123.0,349.7 123.4,348.2 123.9,346.6 124.4,344.8 125.0,343.0 125.7,341.0 126.5,338.8 127.3,336.6 128.2,334.6 129.0,333.0 129.9,331.9 130.8,331.2 131.7,330.8 132.6,330.5 133.3,330.4 133.9,330.4 134.3,330.6 134.7,331.0 135.1,331.5 135.5,332.0 135.9,332.6 136.4,333.1 136.8,333.9 137.3,334.8 137.8,336.0 138.4,337.7 139.1,339.8 139.8,342.1 140.6,344.2 141.3,346.0 142.0,347.4 142.8,348.7 143.6,349.7 144.3,350.5 144.9,351.0 145.3,351.2 145.7,351.1 145.9,350.7 146.2,350.2 146.5,349.5 146.8,348.8 147.2,347.9 147.5,346.9 147.9,345.6 148.4,344.0 149.0,341.8 149.7,339.0 150.4,336.1 151.2,333.3 152.0,331.0 152.8,329.2 153.7,327.7 154.6,326.4 155.5,325.5 156.2,324.9 156.7,324.7 157.1,325.0 157.5,325.5 157.8,326.2 158.2,327.0 158.6,327.8 159.0,328.7 159.4,329.8 159.9,331.1 160.4,332.6 161.0,334.6 161.8,337.1 162.6,339.7 163.3,342.1 164.0,344.0 164.6,345.5 165.2,346.6 165.8,347.5 166.3,348.2 166.8,348.5 167.2,348.5 167.6,348.2 167.9,347.6 168.2,346.9 168.5,346.0 168.8,345.1 169.2,344.0 169.5,342.8 169.9,341.3 170.3,339.7 170.8,337.7 171.3,335.3 171.9,332.8 172.4,330.4 173.0,328.4 173.6,326.8 174.2,325.3 174.9,324.1 175.5,323.2 176.0,322.7 176.5,322.6 176.9,322.9 177.2,323.4 177.6,324.2 178.0,325.0 178.4,325.9 178.8,327.0 179.1,328.2 179.5,329.5 180.0,331.0 180.5,332.7 181.2,334.8 181.8,336.9 182.4,338.8 183.0,340.4 183.5,341.6 184.0,342.7 184.4,343.5 184.8,344.1 185.2,344.4 185.5,344.5 185.8,344.2 186.1,343.8 186.3,343.2 186.6,342.5 186.9,341.7 187.1,340.8 187.3,339.7 187.6,338.4 188.0,336.9 188.5,334.9 189.0,332.6 189.6,330.1 190.2,327.7 190.8,325.6 191.4,323.8 191.9,322.1 192.5,320.6 193.0,319.4 193.5,318.5 193.9,318.0 194.1,317.7 194.4,317.8 194.6,318.2 195.0,319.0 195.5,320.5 196.1,322.6 196.7,325.0 197.3,327.2 197.8,328.8 198.1,329.7 198.4,330.3 198.6,330.6 198.8,330.6 199.0,330.3 199.2,329.8 199.5,329.0 199.7,328.0 200.0,326.7 200.2,325.0 200.4,322.8 200.6,320.1 200.8,317.2 201.0,314.4 201.2,312.0 201.4,310.0 201.5,308.1 201.7,306.5 201.8,305.3 202.0,304.8 202.2,305.1 202.4,306.2 202.6,307.7 202.8,309.3 203.0,310.5 203.2,311.5 203.3,312.4 203.5,313.3 203.6,314.0 203.8,314.5 204.0,314.8 204.2,314.8 204.5,314.8 204.7,314.6 205.0,314.5 205.3,314.3 205.5,313.9 205.8,313.6 206.0,313.3 206.3,313.3 206.6,313.6 206.8,314.0 207.0,314.6 207.3,315.3 207.5,316.0 207.7,316.6 207.8,317.1 208.0,317.8 208.1,318.7 208.4,320.0 208.8,321.9 209.2,324.3 209.7,326.9 210.2,329.5 210.6,331.7 211.0,333.8 211.4,335.8 211.8,337.7 212.2,339.1 212.5,340.0 212.7,340.4 212.9,340.3 213.1,339.8 213.3,338.7 213.5,337.0 213.8,334.2 214.2,330.5 214.7,326.3 215.1,322.3 215.5,319.0 215.9,316.3 216.2,313.9 216.6,311.8 216.9,310.4 217.3,309.8 217.6,310.2 218.0,311.6 218.3,313.5 218.7,315.5 219.0,317.5 219.3,319.4 219.6,321.4 219.9,323.5 220.2,325.5 220.5,327.4 220.8,329.3 221.1,331.4 221.3,333.3 221.6,334.7 221.9,335.2 222.2,334.7 222.5,333.5 222.7,331.7 223.0,329.6 223.3,327.4 223.6,324.8 223.9,321.7 224.2,318.5 224.5,315.6 224.7,313.3 224.9,311.7 225.0,310.7 225.1,309.9 225.1,309.4 225.2,309.0" fill="none" stroke="#000" stroke-width="1.8" stroke-linejoin="round" stroke-linecap="round" />
<polyline points="159.4,309.6 159.8,310.7 160.0,311.5 160.3,312.3 160.6,313.2 160.9,314.0 161.4,315.4 161.8,316.1 162.2,316.6 162.5,317.0 163.0,318.0 163.3,318.9 163.6,319.8 163.9,320.9 164.3,322.0 164.6,323.2 165.0,324.3 165.2,325.2 165.5,326.0 165.8,327.1 166.1,327.9 166.3,328.2 166.6,327.8 167.1,326.5 167.3,325.4 167.6,324.3 167.8,323.5 168.0,322.7 168.2,321.9 168.4,321.1 168.6,320.3 168.8,319.5 169.0,318.7 169.2,317.9 169.4,317.0 169.6,316.1 169.8,315.2 170.1,314.3 170.3,313.5 170.5,312.7 170.7,312.0 171.3,310.5 171.8,310.2 172.3,310.7 172.8,311.7 173.5,313.0 174.0,314.0 174.5,315.0 174.8,315.8 175.2,316.7 175.6,317.6 176.0,318.4 176.4,319.1 176.8,319.9 177.9,321.0 178.9,320.3 179.5,319.3 180.0,318.4 180.3,317.6 180.7,316.8 181.0,316.0 181.5,315.0 182.0,314.0 182.5,313.1 183.0,312.1 183.5,311.2 184.1,310.2 184.6,309.4 185.1,308.6 186.0,308.0 186.8,308.7 187.2,309.5 187.6,310.2 188.0,311.2 188.3,312.2 188.7,313.1 189.0,314.0 189.3,314.9 189.7,315.8 190.0,316.9 190.3,317.9 190.6,318.7 190.9,319.5 191.5,320.0 192.0,319.0 192.2,318.0 192.3,317.0 192.5,316.2 192.6,315.4 192.8,314.5 192.9,313.7 193.1,312.8 193.3,312.0 193.5,311.1 193.8,310.2 194.0,309.3 194.3,308.3 194.6,307.4 194.9,306.4 195.2,305.4 195.4,304.5 195.7,303.5 196.2,302.5 196.6,301.4 197.5,300.4 198.4,300.0 199.2,299.8 199.9,298.9 200.1,298.1 200.4,297.3 200.5,296.2 200.7,295.2 200.8,294.4 200.8,293.6 200.9,292.8 201.0,291.9 201.1,290.9 201.2,290.0 201.3,289.0 201.4,288.0 201.4,287.0 201.5,286.1 201.6,285.3 201.6,284.4 201.7,283.6 201.7,282.8 201.8,282.0 201.8,281.2 201.9,280.4 201.9,279.5 202.0,278.7 202.0,277.9 202.1,277.0 202.3,276.0 202.4,275.0 202.7,276.0 202.8,277.1 202.9,278.1 202.9,279.2 203.0,280.2 203.1,281.2 203.1,282.1 203.2,283.1 203.3,284.0 203.4,284.8 203.4,285.7 203.5,286.5 203.6,287.4 203.7,288.3 203.8,289.2 203.9,290.1 204.0,291.0 204.1,291.9 204.2,292.7 204.3,293.5 204.4,294.3 204.7,295.4 204.9,296.4 205.2,297.2 205.6,298.0 206.4,299.2 207.2,300.3 208.0,302.0 208.3,302.1 208.7,302.9 209.0,304.0 209.3,303.8 209.7,305.4 210.0,306.5 210.6,307.9 211.2,306.0 211.8,306.2 212.4,305.0 213.0,306.4 213.6,305.3 214.2,302.4 214.9,304.2 215.6,303.4 216.4,302.0 217.3,301.6 218.1,299.9 218.9,299.0 219.6,299.9 220.2,297.7 220.8,297.1 221.4,296.2 222.0,294.3 222.3,294.8 222.7,294.0 223.0,294.4 223.3,292.7 223.8,291.9 224.3,290.8 224.7,290.9 225.1,290.0 225.5,289.1 225.8,290.8 226.0,290.2 226.2,289.4 226.5,289.1 226.8,288.9 227.0,289.5 227.2,290.4 227.4,290.6 227.5,293.5 228.0,293.7 228.6,295.8 229.2,294.9 229.8,297.0 230.4,297.0 230.9,295.1 231.2,296.3 231.6,298.8 232.0,297.4 232.4,298.2 232.9,295.2 233.4,292.9 233.8,293.4 234.2,292.9 234.6,290.4 235.0,289.1 235.4,289.3 235.8,291.3 236.2,291.1 236.6,289.6 237.0,289.7 237.4,288.5 237.8,287.3 238.1,287.9 238.3,285.9 238.5,285.6 238.7,284.4 238.9,283.0 239.1,282.4 239.3,281.1 239.4,280.6 239.5,279.4 239.7,278.7 239.8,277.7 239.9,276.8 240.1,275.9 240.2,274.9 240.4,274.0 240.6,273.1 240.7,272.1 240.9,271.2 241.1,270.2 241.3,269.2 241.5,268.2 241.6,267.2 241.8,266.2 242.0,265.2 242.1,264.4 242.2,263.6 242.4,262.8 242.5,262.0 242.6,261.1 242.7,260.3 242.8,259.4 242.9,258.5 243.0,257.6 243.1,256.7 243.2,255.8 243.3,254.8 243.4,253.9 243.5,253.0 243.6,252.1 243.7,251.2 243.9,250.4 244.0,249.6 244.1,248.8 244.2,248.0 244.4,247.1 244.6,246.2 244.7,245.2 244.9,244.4 245.1,243.6 245.3,242.8 245.6,241.7 245.9,240.6 246.2,239.6 246.5,238.6 246.8,237.7 247.1,236.8 247.4,236.0 247.7,235.2 248.3,233.8 248.9,232.7 249.6,231.8 250.3,231.2 251.0,230.8 251.8,230.4 252.7,230.1 253.6,229.8 254.5,229.7 255.4,229.8 256.3,230.0 257.2,230.5 258.1,231.0 258.9,231.6 259.7,232.3 260.4,233.2 261.2,234.1 261.9,235.0 262.6,235.9 263.3,236.9 264.0,237.8 264.8,238.6 265.6,239.1 266.4,239.6 267.3,239.9 268.3,240.1 269.5,240.3 270.8,240.4 272.3,240.5 273.1,240.5 273.9,240.5 274.9,240.4 275.8,240.4 276.9,240.3 278.0,240.2 279.1,240.1 280.2,239.9 281.2,239.8 282.2,239.6 283.1,239.4 284.1,239.2 285.0,239.0 285.9,238.8 286.7,238.6 287.6,238.3 288.4,238.0 289.2,237.7 290.0,237.3 290.7,236.9 291.4,236.4 292.2,236.0 292.8,235.5 293.5,235.0 294.7,234.0 295.7,233.0 296.6,231.9 297.5,230.9 298.3,230.0 299.2,229.4 300.1,228.9 300.9,228.4 301.8,227.5 302.2,226.8 302.7,226.1 303.1,225.3 303.5,224.5 304.0,223.6 304.4,222.7 304.9,221.8 305.3,221.0 305.8,220.2 306.2,219.4 306.7,218.6 307.1,217.8 307.6,217.1 308.1,216.4 308.9,215.3 309.6,214.5 310.3,214.0 311.0,213.8 311.7,213.8 312.4,214.2 313.2,214.8 314.0,215.6 314.8,216.5 315.6,217.4 316.5,218.3 317.3,219.3 318.3,220.3 319.4,221.4 320.0,221.9 320.6,222.5 321.3,223.0 321.9,223.6 323.0,224.6 324.0,225.5 324.9,226.3 325.8,227.1 326.6,228.0 327.4,228.8 328.1,229.6 328.7,230.5 329.3,231.8 329.5,232.7 329.7,233.6 329.9,234.6 330.1,235.7 330.2,236.8 330.4,237.9 330.5,239.0 330.6,240.0 330.8,241.3 330.9,242.3 331.1,243.8 331.1,244.6 331.2,245.4 331.2,246.2 331.3,247.0 331.3,247.8 331.4,248.7 331.4,249.5 331.5,250.3 331.5,251.2 331.6,252.0 331.6,252.8 331.7,253.7 331.7,254.5 331.8,255.4 331.8,256.2 331.9,257.1 331.9,257.9 332.0,258.8 332.0,259.6 332.1,260.5 332.1,261.4 332.2,262.2 332.2,263.1 332.3,264.0 332.3,264.9 332.4,265.8 332.4,266.6 332.5,267.5 332.5,268.4 332.6,269.2 332.6,270.1 332.7,270.9 332.8,271.7 332.8,272.5 332.9,273.4 332.9,274.2 333.0,275.0 333.1,275.8 333.2,276.6 333.3,277.4 333.4,278.3 333.5,279.1 333.5,279.9 333.7,280.7 333.8,281.5 333.9,282.3 334.0,283.1 334.1,283.9 334.3,284.8 334.4,285.6 334.6,286.5 334.7,287.3 334.9,288.3 335.1,289.3 335.3,290.3 335.5,291.2 335.6,292.0 335.8,292.9 336.0,294.0 336.3,295.0 336.5,295.9 336.7,296.7 337.2,298.0 337.7,298.7 338.2,298.8 338.7,298.9 339.2,299.5 339.8,300.6 340.3,301.9 340.6,302.8 340.9,303.6 341.2,304.7 341.5,305.7 341.7,306.6 341.9,307.5 342.1,308.4 342.2,309.2 342.4,310.0 342.5,310.8 342.7,311.6 342.8,312.4 342.9,313.2 343.1,314.1 343.2,314.9 343.4,315.9 343.6,317.0 343.8,318.0 344.0,319.0 344.2,319.9 344.3,320.9 344.5,321.9 344.7,322.8 344.9,323.8 345.0,324.6 345.2,325.5 345.4,326.4 345.7,327.6 346.0,328.7 346.3,329.6 346.7,330.6 347.0,331.4 347.4,332.2 348.2,333.4 349.0,334.5 349.9,335.3 350.9,335.8 351.9,336.2 353.0,336.3 354.1,336.2 355.2,335.8 356.4,335.4 357.5,335.0 358.6,334.6 359.6,334.3 360.6,333.9 361.7,333.7 362.9,333.6 364.1,333.6 365.3,333.7 366.7,333.7 368.3,333.6 369.1,333.6 369.9,333.5 370.8,333.5 371.7,333.4 372.5,333.4 373.3,333.3 374.9,333.2 376.4,333.2 377.9,333.1 379.2,333.0 380.3,332.8 381.3,332.4 382.3,332.1 383.3,331.7 384.5,331.2 385.7,330.7 387.0,330.3 388.3,330.0 389.6,330.0 390.8,330.2 392.1,330.5 393.3,330.8 394.5,331.0 395.6,331.3 396.8,331.5 398.3,331.7 399.2,331.8 400.2,331.8 401.2,331.9 402.3,331.9 403.4,331.9 404.5,332.0 405.6,332.0 406.7,332.0 407.8,332.0 408.8,332.0 409.9,332.0 411.0,332.0 412.0,331.9 413.0,331.9 414.0,332.0 415.0,332.0 415.9,332.1 416.8,332.2 417.7,332.3 418.6,332.4 419.4,332.6 420.2,332.7 421.7,333.0 423.1,333.4 424.4,333.8 425.6,334.1 426.7,334.2 427.8,334.0 428.8,333.7 429.8,333.2 430.8,332.5 431.8,331.7 432.9,330.8 433.9,329.7 435.0,328.5 435.5,327.8 436.1,327.1 436.6,326.3 437.1,325.6 437.6,324.8 438.2,324.0 438.7,323.2 439.2,322.5 439.7,321.8 440.2,321.1 440.7,320.5 441.2,319.8 442.3,318.6 443.3,317.5 444.3,316.6 445.4,315.9 446.4,315.2 447.5,314.7 448.6,314.3 449.7,314.0 450.7,313.8 451.7,313.7 452.6,313.7 453.4,313.7 454.1,313.8 455.0,314.2 456.0,314.8 457.1,315.6 458.2,316.5 459.2,317.5 460.1,318.5 460.9,319.6 461.6,320.7 462.5,321.7 463.5,322.6 464.5,323.5 465.6,324.3 466.7,325.0 467.9,325.6 469.1,326.1 470.4,326.6 471.7,327.0 472.9,327.4 474.2,327.8 475.4,328.1 476.7,328.3 477.9,328.2 479.2,327.9 480.4,327.6 481.7,327.5 482.9,327.6 484.2,327.9 485.4,328.3 486.7,328.7 488.0,329.1 489.3,329.6 490.5,330.2 491.7,330.8 492.8,331.6 493.8,332.5 494.8,333.4 495.8,334.2 496.8,335.0 497.8,335.7 498.9,336.4 500.0,337.0 501.2,337.5 502.4,338.0 503.7,338.4 505.0,338.7 506.2,338.9 507.5,339.1 508.8,339.2 510.0,339.2 511.2,339.2 512.5,339.1 513.8,339.0 515.0,338.7 516.3,338.4 517.6,338.0 518.8,337.4 520.0,336.7 521.1,335.7 522.3,334.6 522.8,333.9 523.3,333.3 523.7,332.5 524.2,331.7 524.6,330.8 524.9,329.9 525.3,328.9 525.6,327.9 525.8,326.8 526.1,325.7 526.3,324.9 526.5,324.1 526.7,323.3 526.9,322.4 527.1,321.5 527.3,320.6 527.5,319.6 527.7,318.6 528.0,317.6 528.2,316.5 528.4,315.5 528.6,314.5 528.8,313.6 529.0,312.6 529.2,311.7 529.4,310.8 529.6,310.0 529.8,309.1 530.0,308.3 530.2,307.5 530.5,306.6 530.8,305.5 531.1,304.4 531.4,303.4 531.7,302.5 532.3,301.0 533.0,299.9 533.6,299.1 534.2,298.3 534.8,297.8 535.4,297.6 536.0,297.3 536.7,296.7 537.4,295.3 537.8,294.3 538.2,293.4 538.6,292.5 539.0,291.7 539.7,290.8 540.3,291.1 540.7,292.1 541.2,293.5 541.7,295.0 542.0,295.8 542.3,296.5 542.6,297.4 542.9,298.3 543.2,299.1 543.6,300.0 543.9,300.9 544.2,301.7 544.5,302.4 544.8,303.2 545.5,304.5 546.1,306.0 546.4,306.7 546.7,307.5 547.0,308.4 547.3,309.3 547.6,310.3 548.0,311.2 548.3,312.2 548.6,313.2 548.9,314.1 549.2,315.0 549.5,315.8 549.8,316.6 550.1,317.4 550.5,318.2 551.1,319.6 551.7,320.8 552.3,321.8 553.0,322.6 553.6,323.2 554.2,323.7 554.8,324.0 555.3,324.2 555.8,324.1 556.3,323.7 556.8,322.9 557.3,321.7 557.8,320.4 558.3,319.2 558.9,318.2 559.5,317.2 560.2,316.2 560.8,315.0 561.4,313.7 562.0,312.3 562.4,311.5 562.7,310.8 563.0,310.0 563.3,309.2 563.6,308.4 563.9,307.6 564.2,306.7 564.5,305.9 564.8,305.1 565.1,304.2 565.5,303.3 565.8,302.5 566.2,301.5 566.5,300.6 566.9,299.5 567.3,298.4 567.6,297.5 568.0,296.7 568.7,295.8 569.3,296.2 569.8,297.5 570.0,298.3 570.3,299.2 570.5,300.0 570.8,300.8 571.1,301.6 571.4,302.4 571.7,303.3 572.0,304.3 572.3,305.1 572.7,306.0 573.0,306.8 573.3,307.5 573.9,308.6 574.6,309.6 575.2,310.3 575.8,310.8 576.3,310.9 576.6,310.6 577.0,310.5 577.5,310.8 578.0,311.9 578.3,312.6 578.6,313.4 579.0,314.2 579.3,315.1 579.7,315.9 580.0,316.7 580.4,317.5 580.7,318.2 581.1,319.0 581.5,319.8 582.0,320.5 582.4,321.2 583.3,322.5 584.2,323.5 585.2,324.3 586.3,325.1 587.5,325.8 588.9,326.6 589.6,327.0 590.4,327.4 591.2,327.7 591.9,328.1 593.3,328.7 594.6,329.2 595.8,329.7 596.8,330.0 597.5,330.3" fill="none" stroke="#000" stroke-width="3.3" stroke-linejoin="round" stroke-linecap="round" />
</g>
<rect x="47.30" y="45.85" width="549.50" height="337.04" fill="none" stroke="#000" stroke-width="1.1"/>
<path d="M65.62 382.89v-7.30M83.93 382.89v-4.20M102.25 382.89v-4.20M120.57 382.89v-4.20M138.88 382.89v-4.20M157.20 382.89v-7.30M175.52 382.89v-4.20M193.83 382.89v-4.20M212.15 382.89v-4.20M230.47 382.89v-4.20M248.78 382.89v-7.30M267.10 382.89v-4.20M285.42 382.89v-4.20M303.73 382.89v-4.20M322.05 382.89v-4.20M340.37 382.89v-7.30M358.68 382.89v-4.20M377.00 382.89v-4.20M395.32 382.89v-4.20M413.63 382.89v-4.20M431.95 382.89v-7.30M450.27 382.89v-4.20M468.58 382.89v-4.20M486.90 382.89v-4.20M505.22 382.89v-4.20M523.53 382.89v-7.30M541.85 382.89v-4.20M560.17 382.89v-4.20M578.48 382.89v-4.20M65.62 45.85v7.30M83.93 45.85v4.00M102.25 45.85v4.00M120.57 45.85v4.00M138.88 45.85v4.00M157.20 45.85v7.30M175.52 45.85v4.00M193.83 45.85v4.00M212.15 45.85v4.00M230.47 45.85v4.00M248.78 45.85v7.30M267.10 45.85v4.00M285.42 45.85v4.00M303.73 45.85v4.00M322.05 45.85v4.00M340.37 45.85v7.30M358.68 45.85v4.00M377.00 45.85v4.00M395.32 45.85v4.00M413.63 45.85v4.00M431.95 45.85v7.30M450.27 45.85v4.00M468.58 45.85v4.00M486.90 45.85v4.00M505.22 45.85v4.00M523.53 45.85v7.30M541.85 45.85v4.00M560.17 45.85v4.00M578.48 45.85v4.00M65.72 41.65v8.40M157.20 41.65v8.40M267.30 41.65v8.40M340.37 41.65v8.40M431.95 41.65v8.40M498.47 41.65v8.40M583.79 41.65v8.40M47.30 352.25h7.5M47.30 275.65h7.5M47.30 199.05h7.5M47.30 122.45h7.5M596.80 89.62h-7.8M596.80 133.39h-7.8M596.80 177.16h-7.8M596.80 220.94h-7.8M596.80 264.71h-7.8M596.80 308.48h-7.8M596.80 352.25h-7.8" stroke="#000" stroke-width="1" fill="none"/>
<text x="65.9" y="398.6" font-size="13.5" text-anchor="middle" >250</text>
<text x="157.5" y="398.6" font-size="13.5" text-anchor="middle" >500</text>
<text x="249.1" y="398.6" font-size="13.5" text-anchor="middle" >750</text>
<text x="340.7" y="398.6" font-size="13.5" text-anchor="middle" >1000</text>
<text x="432.2" y="398.6" font-size="13.5" text-anchor="middle" >1250</text>
<text x="523.8" y="398.6" font-size="13.5" text-anchor="middle" >1500</text>
<text x="67.1" y="37.7" font-size="13.5" text-anchor="middle" >40</text>
<text x="158.7" y="37.7" font-size="13.5" text-anchor="middle" >20</text>
<text x="268.9" y="37.7" font-size="13.5" text-anchor="middle" >12.5</text>
<text x="340.9" y="37.7" font-size="13.5" text-anchor="middle" >10</text>
<text x="432.1" y="37.7" font-size="13.5" text-anchor="middle" >8</text>
<text x="500.0" y="37.7" font-size="13.5" text-anchor="middle" >7</text>
<text x="584.5" y="37.7" font-size="13.5" text-anchor="middle" >6</text>
<text x="43.4" y="51.3" font-size="13.5" text-anchor="end" >2</text>
<text x="43.4" y="128.3" font-size="13.5" text-anchor="end" >1.5</text>
<text x="43.4" y="205.4" font-size="13.5" text-anchor="end" >1</text>
<text x="43.4" y="282.4" font-size="13.5" text-anchor="end" >0.5</text>
<text x="43.4" y="359.4" font-size="13.5" text-anchor="end" >0</text>
<text x="323.7" y="18.9" font-size="16.4" text-anchor="start" >Wavelength, μm</text>
<text x="250.3" y="419.3" font-size="16.4">Wavenumber, cm<tspan dx="1.2" dy="-7" font-size="10.5">-1</tspan></text>
<text transform="translate(16 204.3) rotate(-90)" font-size="16.4" text-anchor="middle">Raw chemical absorbance</text>
<text x="480.3" y="76.3" font-size="19.4" text-anchor="start" >6H</text>
<text x="480.3" y="100.7" font-size="19.4" text-anchor="start" >Alfa/Aesar</text>
<text x="267.6" y="73.5" font-size="14" text-anchor="start" >t = 5 μm</text>
<text x="262.5" y="148.8" font-size="14" text-anchor="start" style="fill:#b1c1c9;stroke:#b1c1c9;stroke-width:0.45">t = 5 μm</text>
<text x="357.7" y="164.8" font-size="14" text-anchor="start" >thin film,</text>
<text x="357.7" y="181.3" font-size="14" text-anchor="start" >scaled to match platelets</text>
<text x="268.0" y="257.5" font-size="13.8" text-anchor="start" >thick</text>
<text x="268.0" y="273.8" font-size="13.8" text-anchor="start" >platelet</text>
<text x="365.6" y="366.0" font-size="14" text-anchor="start" >thin film t ~ 0.18 μm</text>
<text transform="translate(65.2 268.2) rotate(-90)" font-size="14">234.8</text>
<text transform="translate(76.6 304.3) rotate(-90)" font-size="14">240.0</text>
<text transform="translate(205.8 197.2) rotate(-90)" font-size="14">624.2</text>
<text transform="translate(349.0 247.1) rotate(-90)" font-size="14">1000</text>
<text transform="translate(460.0 240.1) rotate(-90)" font-size="14">1308</text>
<text transform="translate(493.3 240.1) rotate(-90)" font-size="14">1387</text>
<text transform="translate(544.5 240.1) rotate(-90)" font-size="14">1543</text>
<text transform="translate(574.1 240.1) rotate(-90)" font-size="14">1620</text>
<text transform="translate(586.7 238.2) rotate(-90)" font-size="14">1648</text>
<path d="M59.6 297.2V324.0M62.9 305.5V333.0M201.8 206.6V233.7M341.3 258.4V279.6M453.9 247.3V274.0M488.5 253.5V279.3M539.2 252.7V279.3M569.0 250.8V277.5M580.8 250.8V275.9" stroke="#000" stroke-width="1.1" fill="none"/>
</svg>
</body></html>
